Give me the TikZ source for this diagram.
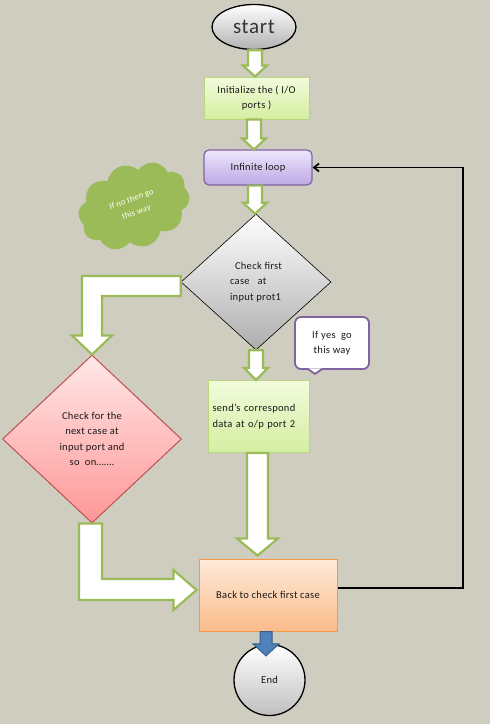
\documentclass[tikz,border=0pt]{standalone}
\usepackage{fontspec}
\setmainfont[LetterSpace=3]{Carlito}
\usetikzlibrary{shapes.geometric,shapes.symbols,arrows.meta,calc}
\definecolor{bg}{RGB}{206,205,192}
\definecolor{agreen}{RGB}{155,187,89}
\definecolor{gtop}{RGB}{242,251,220}
\definecolor{gbot}{RGB}{212,238,160}
\definecolor{gborder}{RGB}{185,215,125}
\definecolor{ltop}{RGB}{238,230,252}
\definecolor{lbot}{RGB}{188,168,228}
\definecolor{lborder}{RGB}{128,100,162}
\definecolor{rtop}{RGB}{255,232,232}
\definecolor{rbot}{RGB}{255,150,150}
\definecolor{rborder}{RGB}{192,80,77}
\definecolor{otop}{RGB}{255,234,218}
\definecolor{obot}{RGB}{250,188,138}
\definecolor{oborder}{RGB}{247,150,70}
\definecolor{bfill}{RGB}{79,129,189}
\definecolor{bborder}{RGB}{56,93,138}
\definecolor{txt}{RGB}{25,25,25}
\newcommand{\vblock}[7]{%
  \path[#1] let \p1=(#2), \p2=(#3) in
    (\x1+#4pt-#5pt,\y1) -- (\x1+#4pt+#5pt,\y1) -- (\x1+#4pt+#5pt,\y2+#7pt) --
    (\x1+#4pt+#6pt,\y2+#7pt) -- (\x1+#4pt,\y2) -- (\x1+#4pt-#6pt,\y2+#7pt) --
    (\x1+#4pt-#5pt,\y2+#7pt) -- cycle;}
\begin{document}
\begin{tikzpicture}[x=1pt,y=-1pt,
  every node/.style={text=txt,font=\fontsize{10.5}{15.5}\selectfont},
  blockarrow/.style={fill=white,draw=agreen,line width=2.2pt,line join=miter},
  bluearrow/.style={fill=bfill,draw=bborder,line width=1pt,line join=miter},
  startnode/.style={ellipse,draw=black,line width=1.3pt,top color=white,bottom color=black!30,minimum width=84,minimum height=45,inner sep=0pt},
  greenbox/.style={rectangle,draw=gborder,line width=1pt,top color=gtop,bottom color=gbot,inner sep=0pt},
  loopbox/.style={rectangle,rounded corners=5pt,draw=lborder,line width=1.2pt,top color=ltop,bottom color=lbot,inner sep=0pt},
  graydia/.style={diamond,draw=black,line width=0.6pt,top color=white,bottom color=black!32,inner sep=0pt},
  reddia/.style={diamond,draw=rborder,line width=1pt,top color=rtop,bottom color=rbot,inner sep=0pt},
  orangebox/.style={rectangle,draw=oborder,line width=1pt,top color=otop,bottom color=obot,inner sep=0pt},
  endnode/.style={circle,draw=black,line width=1.3pt,top color=white,bottom color=black!25,inner sep=0pt},
  bubble/.style={rectangle,rounded corners=6pt,draw=lborder,line width=1.8pt,fill=white,inner sep=0pt},
  cloudnode/.style={cloud,cloud puffs=10,cloud puff arc=120,aspect=1.35,fill=agreen,inner sep=0pt},
  loopline/.style={draw=black,line width=1.8pt,-{Straight Barb[length=5pt,width=8pt]}}]
\path[fill=bg] (0,0) rectangle (490,724);
\useasboundingbox (0,0) rectangle (490,724);

% nodes
\node[startnode,text=black!80,font=\fontsize{21}{24}\selectfont] (start) at (254,27) {start};
\node[greenbox,minimum width=105,minimum height=42,align=center] (init) at (256.5,98) {Initialize the ( I/O\\ports )};
\node[loopbox,minimum width=108,minimum height=35] (loop) at (258,167.5) {Infinite loop};
\node[graydia,minimum width=150,minimum height=136,align=left] (check) at (256,282) {\hspace*{5pt}Check first\\case\ \ \ at\\input prot1};
\node[greenbox,minimum width=101,minimum height=72,align=left,text width=92pt] (send) at (258.5,416.5) {send’s correspond\\data at o/p port 2\\[16pt]};
\node[reddia,minimum width=179,minimum height=168,align=center] (red) at (92,439) {Check for the\\next case at\\input port and\\so\ \ on…….};
\node[orangebox,minimum width=138,minimum height=72] (back) at (268,595) {Back to check first case\\[6pt]};
\node[endnode,minimum size=71] (end) at (269.5,680) {End\\[6pt]};
\node[bubble,minimum width=74,minimum height=52,align=center] (yes) at (332,343) {If yes\ \ go\\this way};
\filldraw[draw=lborder,line width=1.8pt,fill=white] ($(yes.south)+(-25,-1.5)$) -- ($(yes.south)+(-17,4)$) -- ($(yes.south)+(-9,-1.5)$);
\node[cloudnode,minimum width=114,minimum height=84,rotate=20,align=center,text=white,font=\fontsize{8.5}{14}\selectfont] (cloud) at (134,206) {If no then go\\this way};

% block arrows
\vblock{blockarrow}{start.south}{init.north}{1}{7}{12}{11}
\vblock{blockarrow}{init.south}{loop.north}{-2.5}{7}{12}{11}
\vblock{blockarrow}{loop.south}{check.north}{-3}{7}{12}{11}
\vblock{blockarrow}{check.south}{send.north}{0}{7}{12}{12}
\vblock{blockarrow}{send.south}{$(back.north)+(0,-3)$}{-1}{10.5}{20.5}{17}
\path[blockarrow] let \p1=(check.west), \p2=(red.north) in
  (\x1,\y1+6pt) -- (\x2-10pt,\y1+6pt) -- (\x2-10pt,\y2+19pt) -- (\x2-20pt,\y2+19pt) --
  (\x2,\y2) -- (\x2+20pt,\y2+19pt) -- (\x2+10pt,\y2+19pt) -- (\x2+10pt,\y1-14pt) --
  (\x1,\y1-14pt) -- cycle;
\path[blockarrow] let \p1=(red.south), \p2=(back.west) in
  (\x1-13pt,\y1) -- (\x1-13pt,\y2-5pt) -- (\x2-25pt,\y2-5pt) -- (\x2-25pt,\y2-15pt) --
  (\x2-2pt,\y2+5pt) -- (\x2-25pt,\y2+25pt) -- (\x2-25pt,\y2+16pt) -- (\x1+10pt,\y2+16pt) --
  (\x1+10pt,\y1) -- cycle;
\vblock{bluearrow}{back.south}{$(end.north)+(0,12)$}{-2}{6}{13}{12}

% loop back connector
\coordinate (loopx) at (463,0);
\draw[loopline] ($(back.east)+(0,-7)$) -| (loopx |- loop.east) -- (loop.east);
\end{tikzpicture}
\end{document}
